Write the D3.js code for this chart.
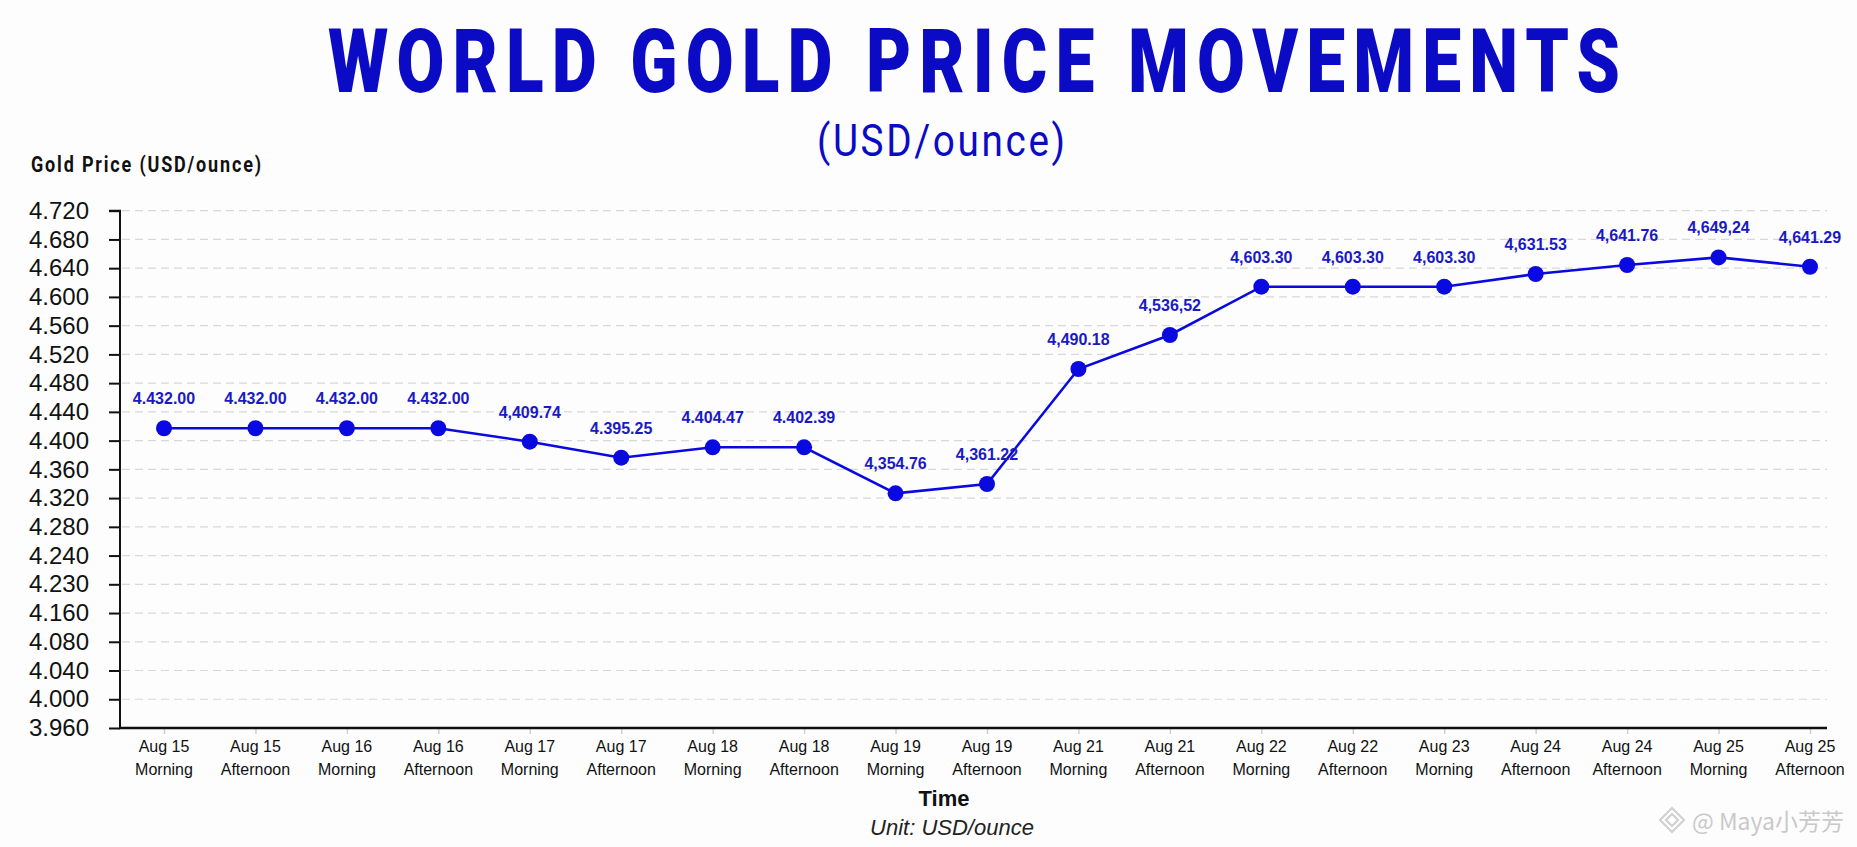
<!DOCTYPE html>
<html>
<head>
<meta charset="utf-8">
<script src="https://cdn.jsdelivr.net/npm/d3@7"></script>
<style>
  html, body { margin: 0; padding: 0; background: #fdfdfd; }
  svg { display: block; }
</style>
</head>
<body>
<svg id="chart" width="1857" height="847"></svg>
<script>
// ---------- data ----------
const categories = [
  "Aug 15|Morning", "Aug 15|Afternoon", "Aug 16|Morning", "Aug 16|Afternoon",
  "Aug 17|Morning", "Aug 17|Afternoon", "Aug 18|Morning", "Aug 18|Afternoon",
  "Aug 19|Morning", "Aug 19|Afternoon", "Aug 21|Morning", "Aug 21|Afternoon",
  "Aug 22|Morning", "Aug 22|Afternoon", "Aug 23|Morning", "Aug 24|Afternoon",
  "Aug 24|Afternoon", "Aug 25|Morning", "Aug 25|Afternoon"
];
// plotted positions
const values = [4417.2, 4417.2, 4417.2, 4417.2, 4398.5, 4376.2, 4390.7, 4390.7,
  4326.6, 4339.6, 4499.7, 4547.0, 4614.2, 4614.2, 4614.2, 4631.9, 4644.4, 4655.0, 4642.0];
// the labels printed above each point
const pointLabels = ["4.432.00", "4.432.00", "4.432.00", "4.432.00", "4,409.74", "4.395.25",
  "4.404.47", "4.402.39", "4,354.76", "4,361.22", "4,490.18", "4,536,52", "4,603.30",
  "4,603.30", "4,603.30", "4,631.53", "4,641.76", "4,649,24", "4,641.29"];
// y tick labels, top to bottom (as printed)
const yTickLabels = ["4.720", "4.680", "4.640", "4.600", "4.560", "4.520", "4.480", "4.440",
  "4.400", "4.360", "4.320", "4.280", "4.240", "4.230", "4.160", "4.080", "4.040", "4.000", "3.960"];
const yDomain = [4000, 4720];

// ---------- layout ----------
const W = 1857, H = 847;
const axisLeftX = 120, axisRightX = 1827;
const topY = 210.7, bottomY = 728;
const blueLine = "#0a0ae0";
const blueText = "#1a1ac4";
const titleBlue = "#0b0bc6";
const condensed = "Roboto, 'Liberation Sans', sans-serif";
const arial = "'Liberation Sans', Arial, Helvetica, sans-serif";

const svg = d3.select("#chart");
svg.append("rect").attr("width", W).attr("height", H).attr("fill", "#fdfdfd");

const x = d3.scalePoint().domain(d3.range(categories.length)).range([164, 1810]);
const y = d3.scaleLinear().domain(yDomain).range([bottomY, topY]);
const yTicks = d3.scalePoint().domain(yTickLabels).range([topY, bottomY]);

// condensed text helper: narrow glyphs via horizontal scale, width fixed by textLength
function condensedText(tx, ty, sx, width, size, weight, fill, str) {
  svg.append("g")
    .attr("transform", `translate(${tx},${ty}) scale(${sx},1)`)
    .append("text")
    .attr("x", 0).attr("y", 0)
    .attr("font-family", condensed).attr("font-weight", weight).attr("font-size", size)
    .attr("fill", fill)
    .attr("textLength", width / sx).attr("lengthAdjust", "spacing")
    .text(str);
}
condensedText(328, 92, 0.78, 1292, 89, 900, titleBlue, "WORLD GOLD PRICE MOVEMENTS");
condensedText(817, 156, 0.86, 248, 45, 400, titleBlue, "(USD/ounce)");
condensedText(31, 172, 0.8, 230, 22.5, 700, "#111", "Gold Price (USD/ounce)");

// grid
svg.append("g")
  .selectAll("line")
  .data(yTickLabels.slice(0, -1))
  .join("line")
  .attr("x1", axisLeftX + 2).attr("x2", axisRightX)
  .attr("y1", d => yTicks(d)).attr("y2", d => yTicks(d))
  .attr("stroke", "#d8d8d8").attr("stroke-width", 1.2)
  .attr("stroke-dasharray", "8,5");

// y axis
const yAxis = svg.append("g")
  .attr("transform", `translate(${axisLeftX},0)`)
  .call(d3.axisLeft(yTicks).tickSize(11).tickPadding(20));
yAxis.select(".domain").attr("stroke", "#111").attr("stroke-width", 2).attr("d", `M-11,${topY}H0V${bottomY}`);
yAxis.selectAll(".tick line").attr("stroke", "#111").attr("stroke-width", 2);
yAxis.selectAll(".tick text")
  .attr("font-family", arial).attr("font-size", 24).attr("fill", "#111");

// x axis
const xAxis = svg.append("g")
  .attr("transform", `translate(0,${bottomY})`)
  .call(d3.axisBottom(x).tickSize(6).tickFormat(""));
xAxis.select(".domain").remove();
xAxis.selectAll(".tick line").attr("stroke", "#cfcfcf").attr("stroke-width", 1.5);
svg.append("line")
  .attr("x1", axisLeftX - 1).attr("x2", axisRightX)
  .attr("y1", bottomY).attr("y2", bottomY)
  .attr("stroke", "#111").attr("stroke-width", 2.5);

const xLabels = svg.append("g")
  .selectAll("text")
  .data(categories)
  .join("text")
  .attr("text-anchor", "middle")
  .attr("font-family", arial).attr("font-size", 16).attr("fill", "#111")
  .attr("transform", (d, i) => `translate(${x(i)},0)`);
xLabels.append("tspan").attr("x", 0).attr("y", 752).text(d => d.split("|")[0]);
xLabels.append("tspan").attr("x", 0).attr("y", 775).text(d => d.split("|")[1]);

svg.append("text")
  .attr("x", 944).attr("y", 806).attr("text-anchor", "middle")
  .attr("font-family", arial).attr("font-weight", "bold").attr("font-size", 22)
  .attr("fill", "#111").text("Time");

svg.append("text")
  .attr("x", 952).attr("y", 835).attr("text-anchor", "middle")
  .attr("font-family", arial).attr("font-style", "italic").attr("font-size", 22)
  .attr("fill", "#222").text("Unit: USD/ounce");

// line
const line = d3.line().x((d, i) => x(i)).y(d => y(d));
svg.append("path")
  .datum(values)
  .attr("d", line)
  .attr("fill", "none").attr("stroke", blueLine).attr("stroke-width", 2.6);

svg.append("g")
  .selectAll("circle")
  .data(values)
  .join("circle")
  .attr("cx", (d, i) => x(i)).attr("cy", d => y(d)).attr("r", 8)
  .attr("fill", blueLine);

svg.append("g")
  .selectAll("text")
  .data(values)
  .join("text")
  .attr("x", (d, i) => x(i)).attr("y", d => y(d) - 24)
  .attr("text-anchor", "middle")
  .attr("font-family", arial).attr("font-weight", "bold").attr("font-size", 16)
  .attr("fill", blueText)
  .text((d, i) => pointLabels[i]);

// watermark
const wm = svg.append("g").attr("fill", "none").attr("stroke", "#cfcfcf").attr("stroke-width", 2);
wm.append("path").attr("d", "M1672,808 L1684,820 L1672,832 L1660,820 Z");
wm.append("path").attr("d", "M1672,814 L1678,820 L1672,826 L1666,820 Z");
svg.append("text")
  .attr("x", 1692).attr("y", 830)
  .attr("font-family", "'Noto Sans CJK SC', 'Noto Sans', sans-serif").attr("font-size", 23)
  .attr("fill", "#c9c9c9").text("@ Maya小芳芳");
</script>
</body>
</html>
